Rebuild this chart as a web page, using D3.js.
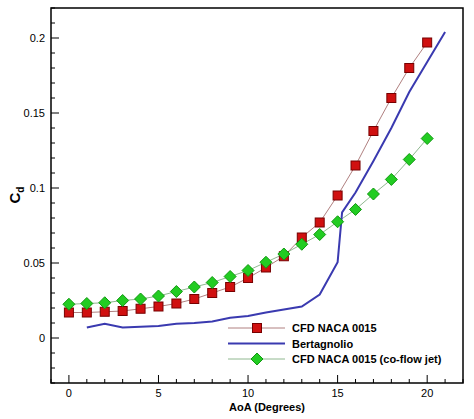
<!DOCTYPE html><html><head><script src="https://d3js.org/d3.v7.min.js"></script>
<style>body{margin:0;background:#fff}text{font-family:Arial,"Liberation Sans",sans-serif}</style></head><body>
<script>
const aoa=d3.range(0,21);
const cfd=[0.017,0.017,0.0175,0.018,0.0195,0.021,0.023,0.026,0.030,0.034,0.040,0.047,0.0545,0.067,0.077,0.095,0.115,0.138,0.160,0.180,0.197];
const jet=[0.0225,0.023,0.0235,0.025,0.026,0.028,0.031,0.034,0.037,0.041,0.045,0.0505,0.056,0.0625,0.069,0.0775,0.0857,0.096,0.1057,0.119,0.133];
const bertX=[1,2,3,4,5,6,7,8,9,10,11,12,13,14,15,15.25,16,17,18,19,20,21];
const bertY=[0.007,0.0095,0.007,0.0075,0.008,0.0095,0.010,0.011,0.0135,0.0146,0.017,0.019,0.021,0.029,0.0505,0.0837,0.097,0.118,0.140,0.164,0.184,0.204];
const xTicks=[0,5,10,15,20], yTicks=[0,0.05,0.1,0.15,0.2];
const W=474,H=419,L=51,T=8,R=463,B=383;
const svg=d3.select("body").append("svg").attr("width",W).attr("height",H);
const x=d3.scaleLinear().domain([-1,22]).range([L,R]);
const y=d3.scaleLinear().domain([-0.03,0.22]).range([B,T]);
// ticks
const g=svg.append("g").attr("stroke","#000");
d3.range(-1,23).forEach(v=>{const M=v%5===0;g.append("line").attr("x1",x(v)).attr("x2",x(v)).attr("y1",B).attr("y2",B-(M?8:4));});
d3.range(-0.03,0.2201,0.01).forEach(v=>{v=Math.round(v*100)/100;const M=Math.abs(v*20-Math.round(v*20))<1e-6;g.append("line").attr("y1",y(v)).attr("y2",y(v)).attr("x1",L).attr("x2",L+(M?8:4));});
xTicks.forEach(v=>svg.append("text").attr("x",x(v)).attr("y",B+14).attr("text-anchor","middle").attr("font-size",11).text(v));
yTicks.forEach(v=>svg.append("text").attr("x",L-6).attr("y",y(v)+4).attr("text-anchor","end").attr("font-size",11).text(v));
svg.append("rect").attr("x",L).attr("y",T).attr("width",R-L).attr("height",B-T).attr("fill","none").attr("stroke","#000").attr("stroke-width",1.5);
svg.append("text").attr("x",(L+R)/2+10).attr("y",411).attr("text-anchor","middle").attr("font-size",11).attr("font-weight","bold").text("AoA (Degrees)");
const yl=svg.append("text").attr("transform","translate(20,195) rotate(-90)").attr("text-anchor","middle").attr("font-size",15).attr("font-weight","bold");
yl.append("tspan").text("C");yl.append("tspan").attr("font-size",10).attr("dy",4).text("d");
const line=d3.line();
svg.append("path").attr("d",line(aoa.map((a,i)=>[x(a),y(cfd[i])]))).attr("fill","none").attr("stroke","#b08080").attr("stroke-width",1);
svg.append("path").attr("d",line(aoa.map((a,i)=>[x(a),y(jet[i])]))).attr("fill","none").attr("stroke","#90b890").attr("stroke-width",1);
svg.append("path").attr("d",line(bertX.map((a,i)=>[x(a),y(bertY[i])]))).attr("fill","none").attr("stroke","#3a3ab0").attr("stroke-width",2);
const sq=(px,py)=>svg.append("rect").attr("x",px-4.5).attr("y",py-4.5).attr("width",9).attr("height",9).attr("fill","#d01010").attr("stroke","#700");
const dm=(px,py)=>svg.append("path").attr("d",`M${px},${py-6}L${px+6},${py}L${px},${py+6}L${px-6},${py}Z`).attr("fill","#22cc22").attr("stroke","#119911");
aoa.forEach((a,i)=>sq(x(a),y(cfd[i])));
aoa.forEach((a,i)=>dm(x(a),y(jet[i])));
// legend
const leg=[["CFD NACA 0015","#b08080",1,"sq"],["Bertagnolio","#3a3ab0",2,null],["CFD NACA 0015 (co-flow jet)","#90b890",1,"dm"]];
leg.forEach((d,i)=>{const ly=328+i*15.5;
svg.append("line").attr("x1",228).attr("x2",285).attr("y1",ly).attr("y2",ly).attr("stroke",d[1]).attr("stroke-width",d[2]);
if(d[3]==="sq")sq(257,ly);if(d[3]==="dm")dm(257,ly);
svg.append("text").attr("x",292).attr("y",ly+4).attr("font-size",11).attr("font-weight","bold").text(d[0]);});
</script></body></html>
